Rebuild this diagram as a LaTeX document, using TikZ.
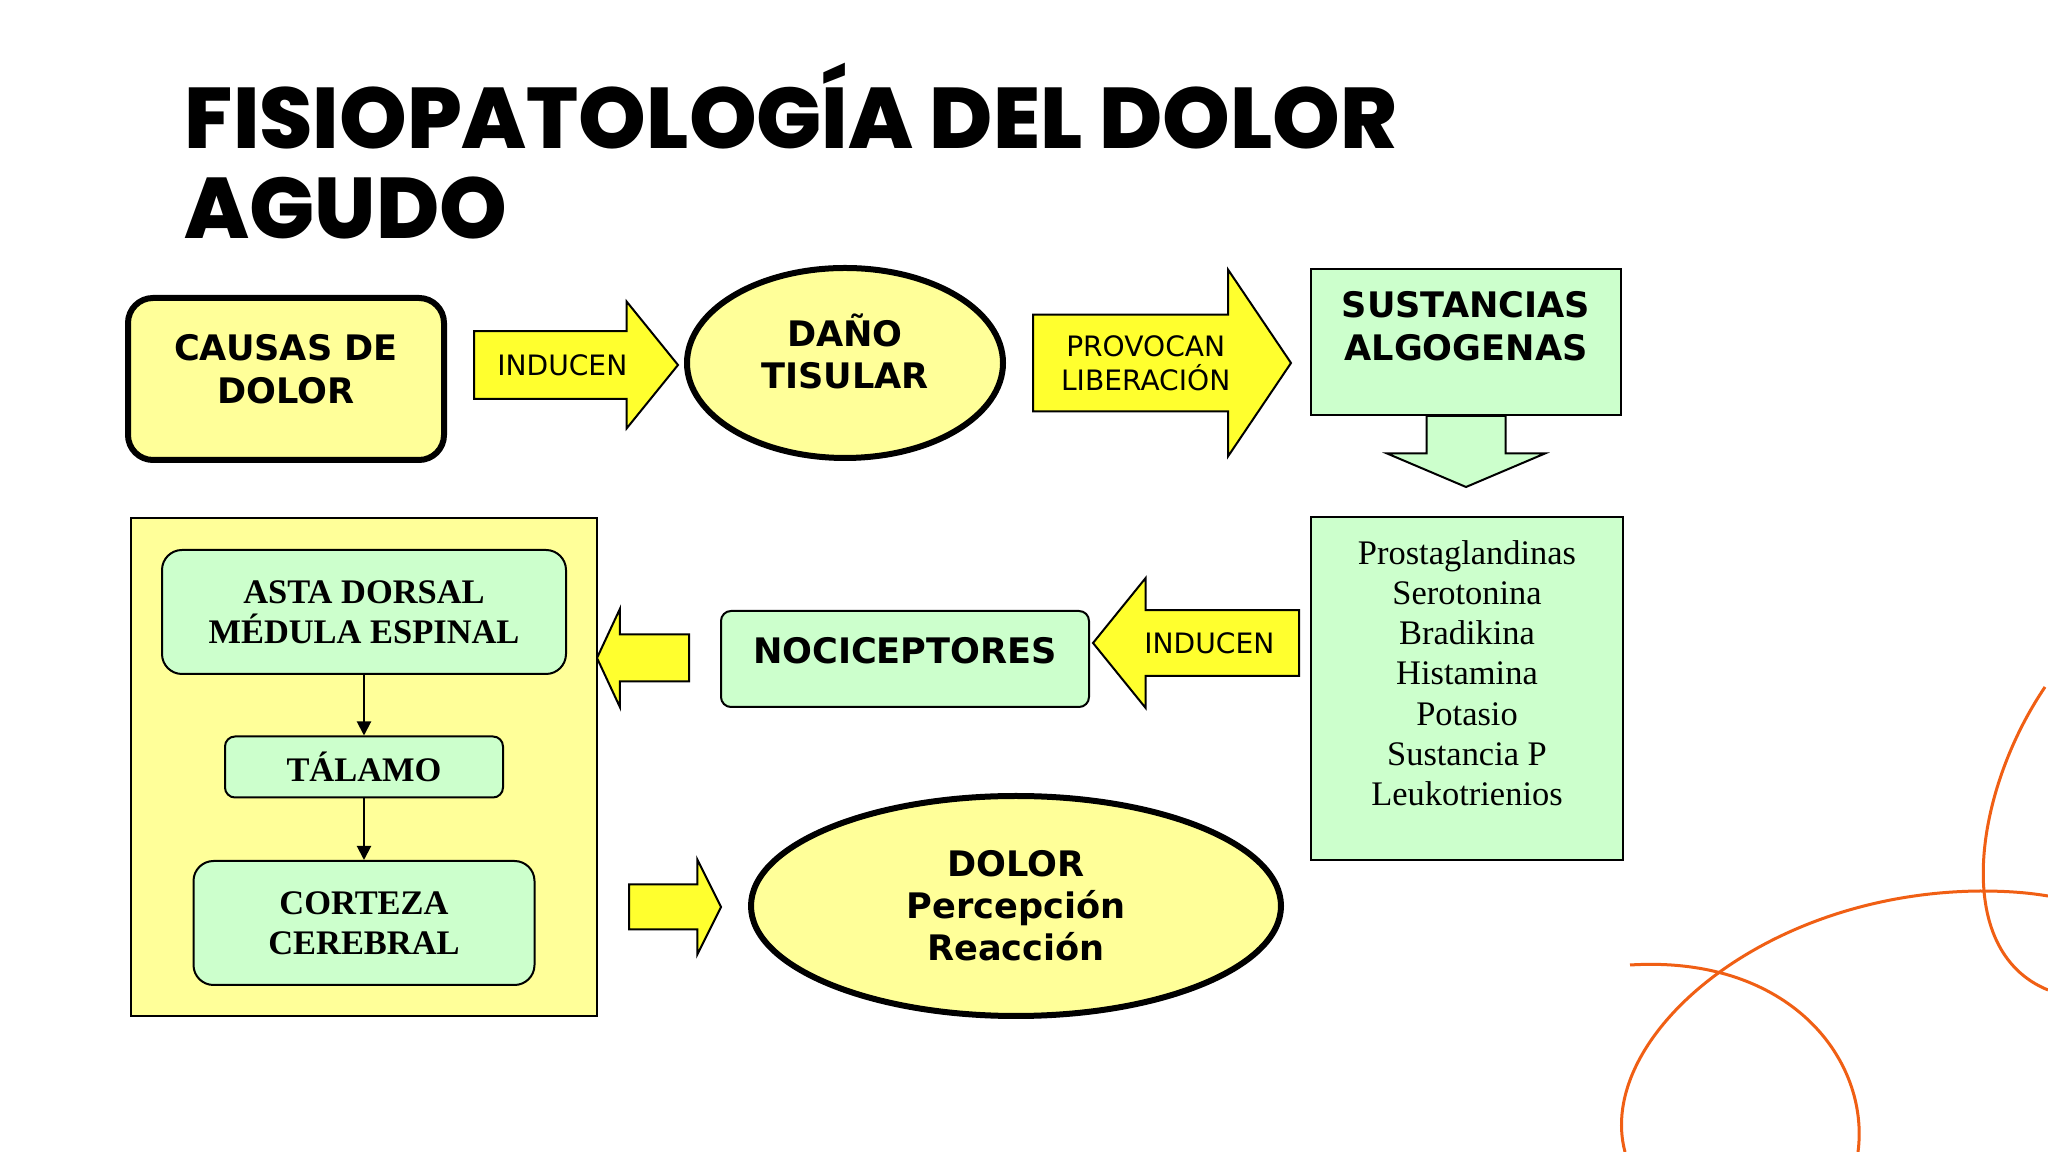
\documentclass[tikz,border=0pt]{standalone}
\usepackage{fontspec}
\setmainfont{Liberation Serif}
\setsansfont{DejaVu Sans}
\newfontfamily\titlefont{Poppins}[BoldFont={* ExtraBold}]
\usepackage{xcolor}
\usepackage{tikz}
\usetikzlibrary{positioning,arrows.meta,shapes.geometric,shapes.arrows}

\definecolor{amarillo}{HTML}{FFFF99}
\definecolor{flecha}{HTML}{FFFF2E}
\definecolor{verde}{HTML}{CCFFCC}
\definecolor{naranja}{HTML}{F05F14}

\begin{document}
\begin{tikzpicture}[x=0.1mm,y=-0.1mm,
box/.style={
rectangle,draw,line width=0.2mm,
align=center,inner sep=0pt,
font=\sffamily\bfseries\fontsize{10}{12}\selectfont
},
thickbox/.style={box,line width=0.6mm,fill=amarillo},
greenbox/.style={box,fill=verde},
serifbox/.style={box,fill=verde,rounded corners=2mm,
font=\rmfamily\bfseries\fontsize{9.8}{11.5}\selectfont},
blockarrow/.style={
single arrow,draw,line width=0.2mm,fill=flecha,
inner xsep=0pt,single arrow head indent=0pt,
font=\sffamily\fontsize{8}{9.7}\selectfont,align=center
},
arrow/.style={-{Triangle[length=1.4mm,width=1.4mm]},line width=0.2mm}
]

\useasboundingbox[fill=white] (0,0) rectangle (2048,1152);

% TITLE
\node[anchor=north west,align=left,inner sep=0pt,
font=\titlefont\bfseries\fontsize{24.5}{25.6}\selectfont] (titulo) at (184,62)
{FISIOPATOLOGÍA DEL DOLOR\\AGUDO};

% TOP ROW
\node[thickbox,rounded corners=2.5mm,minimum width=31.6mm,minimum height=16.2mm,
text depth=5.7pt] (causas)
at (286,379) {CAUSAS DE\\DOLOR};

\node[blockarrow,anchor=tail,minimum height=20.4mm,minimum width=12.4mm,inner ysep=2.22mm,
single arrow head extend=2.95mm,single arrow tip angle=102] (induce)
at (473,365) {INDUCEN};

\node[ellipse,draw,line width=0.6mm,fill=amarillo,inner sep=0pt,
minimum width=31.6mm,minimum height=19mm,text depth=6.8pt,
font=\sffamily\bfseries\fontsize{10}{12}\selectfont,align=center] (dano)
at (845,363) {DAÑO\\TISULAR};

\node[blockarrow,anchor=tail,minimum height=25.8mm,minimum width=18.4mm,inner ysep=1.97mm,
single arrow head extend=4.5mm,single arrow tip angle=112] (provoca)
at (1032,363) {PROVOCAN\\LIBERACIÓN};

\node[greenbox,minimum width=31mm,minimum height=14.6mm,text depth=9.1pt] (sustancias)
at (1466,342) {SUSTANCIAS\\ALGOGENAS};

\node[blockarrow,fill=verde,anchor=tail,rotate=-90,
minimum height=7.1mm,minimum width=15.6mm,inner ysep=3.85mm,
single arrow head extend=3.95mm,single arrow tip angle=134] (baja)
at (1466,415) {};

% RIGHT LIST
\node[greenbox,minimum width=31.2mm,minimum height=34.3mm,text depth=9.1pt,
font=\rmfamily\fontsize{9.8}{11.4}\selectfont] (lista)
at (1467,689) {Prostaglandinas\\Serotonina\\Bradikina\\Histamina\\Potasio\\Sustancia P\\Leukotrienios};

% MIDDLE ROW
\node[blockarrow,anchor=tail,shape border rotate=180,
minimum height=20.6mm,minimum width=12.7mm,inner ysep=2.12mm,
single arrow head extend=3.2mm,single arrow tip angle=102] (induce2)
at (1300,643) {INDUCEN};

\node[greenbox,rounded corners=1mm,minimum width=36.8mm,minimum height=9.6mm,
text depth=4.6pt] (nocic)
at (905,659) {NOCICEPTORES};

\node[blockarrow,anchor=tail,shape border rotate=180,
minimum height=9.2mm,minimum width=9.6mm,inner ysep=2.25mm,
single arrow head extend=2.55mm,single arrow tip angle=130] (hacia)
at (690,658) {};

% CENTRAL PATH
\node[box,fill=amarillo,minimum width=46.6mm,minimum height=49.8mm] (zona)
at (364,767) {};

\node[serifbox,minimum width=40.4mm,minimum height=12.4mm] (asta)
at (364,612) {ASTA DORSAL\\MÉDULA ESPINAL};

\node[serifbox,rounded corners=1mm,minimum width=27.8mm,minimum height=6.1mm] (talamo)
at (364,767) {TÁLAMO};

\node[serifbox,minimum width=34.1mm,minimum height=12.4mm] (corteza)
at (364,923) {CORTEZA\\CEREBRAL};

\draw[arrow] (asta.south) -- (talamo.north);
\draw[arrow] (talamo.south) -- (corteza.north);

% OUTPUT
\node[blockarrow,anchor=tail,minimum height=9.2mm,minimum width=9.3mm,inner ysep=2.15mm,
single arrow head extend=2.5mm,single arrow tip angle=127] (salida)
at (628,907) {};

\node[ellipse,draw,line width=0.6mm,fill=amarillo,inner sep=0pt,
minimum width=53mm,minimum height=22mm,
font=\sffamily\bfseries\fontsize{10}{12}\selectfont,align=center] (dolor)
at (1016,906) {DOLOR\\Percepción\\Reacción};

% DECORATION
\draw[naranja,line width=0.3mm] (1630,965) .. controls (1790,955) and (1870,1060) .. (1858,1152);
\draw[naranja,line width=0.3mm] (1625,1152) .. controls (1595,1040) and (1760,893) .. (1980,891)
.. controls (2010,891) and (2030,893) .. (2048,896);
\draw[naranja,line width=0.3mm] (2045,687) .. controls (1975,790) and (1950,950) .. (2048,990);

\end{tikzpicture}
\end{document}
